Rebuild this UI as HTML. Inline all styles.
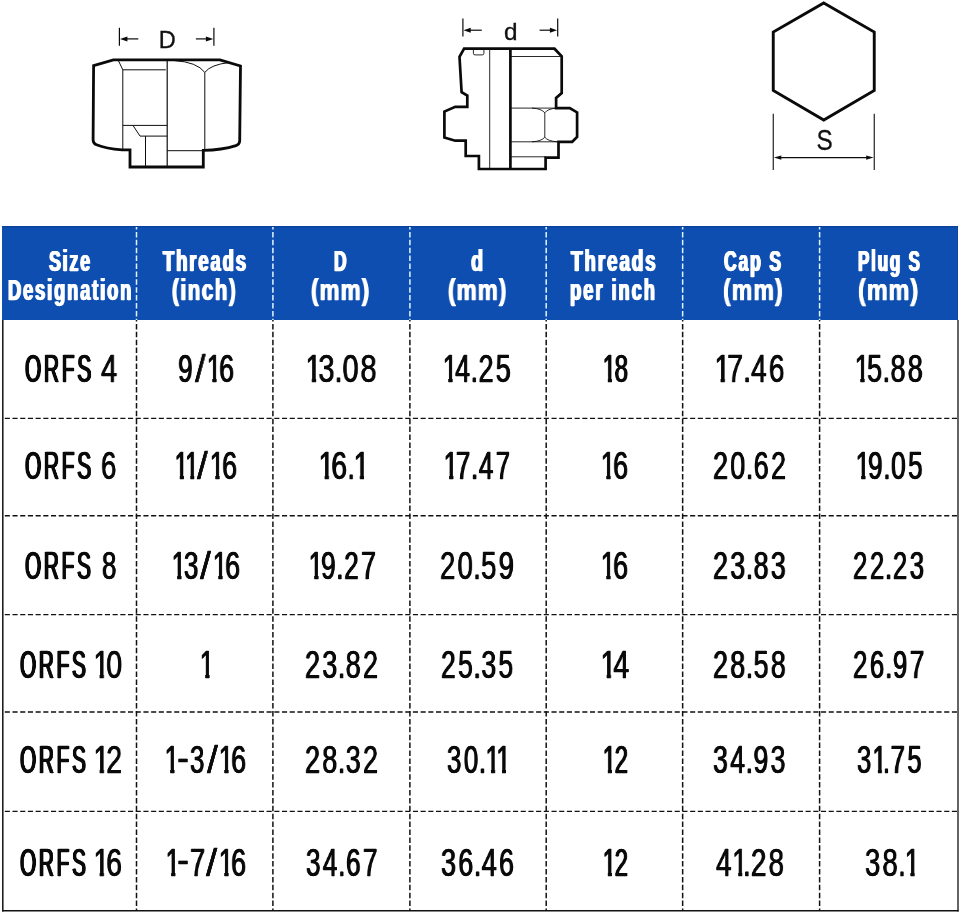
<!DOCTYPE html>
<html lang="en">
<head>
<meta charset="utf-8">
<title>ORFS Cap and Plug Size Chart</title>
<style>
html,body{margin:0;padding:0;background:#fff;}
body{width:960px;height:914px;position:relative;overflow:hidden;font-family:"Liberation Sans",sans-serif;}
#page{position:absolute;left:0;top:0;width:960px;height:914px;background:#fff;overflow:hidden;}
svg{position:absolute;left:0;top:0;display:block;}
#hdr{position:absolute;left:2px;top:226.3px;width:956.1px;height:93.7px;background:#0e4eb0;box-shadow:inset 0 1.2px 0 #0b4198,inset -1px 0 0 #0c469f;}

.b,.h{position:absolute;white-space:nowrap;transform-origin:0 0;line-height:1;margin:-0.85em 0 0 0;padding:0;font-family:"Liberation Sans",sans-serif;will-change:transform;}
.b{--d:0px;font-size:39.35px;color:#0a0a0a;font-weight:400;-webkit-text-stroke:0.35px #0a0a0a;text-shadow:var(--d) 0 0 currentColor,calc(-1*var(--d)) 0 0 currentColor;}
.h{--d:0px;font-size:28.6px;color:#fff;font-weight:700;-webkit-text-stroke:0.25px #fff;text-shadow:var(--d) 0 0 currentColor,calc(-1*var(--d)) 0 0 currentColor;}
.b b{font-weight:400;margin:0 -0.07em 0 -0.065em;}
.b i{display:inline-block;font-style:normal;margin:0 -0.176em 0 -0.055em;clip-path:polygon(-0.3em -0.2em,0.9em -0.2em,0.9em 0.685em,calc(0.34em + var(--d) + 0.4px) 0.685em,calc(0.34em + var(--d) + 0.4px) 1.2em,calc(0.25em - var(--d) - 0.4px) 1.2em,calc(0.25em - var(--d) - 0.4px) 0.685em,-0.3em 0.685em);}

.dl text{font-family:"Liberation Sans",sans-serif;fill:#111;}
</style>
</head>
<body>
<div id="page">

<div id="hdr"></div>
<div id="tbl" role="table">
<div role="row">
<div role="columnheader" aria-label="Size Designation">
<span class="h" style="left:49.13px;top:270.80px;transform:scaleX(0.6201);--d:1.20px;letter-spacing:3.00px;">Size</span>
<span class="h" style="left:8.26px;top:300.00px;transform:scaleX(0.6367);--d:1.20px;letter-spacing:3.00px;">Designation</span>
</div>
<div role="columnheader" aria-label="Threads (inch)">
<span class="h" style="left:163.46px;top:270.80px;transform:scaleX(0.6425);--d:1.20px;letter-spacing:2.98px;">Threads</span>
<span class="h" style="left:171.90px;top:300.00px;transform:scaleX(0.7180);--d:0.94px;letter-spacing:2.21px;">(inch)</span>
</div>
<div role="columnheader" aria-label="D (mm)">
<span class="h" style="left:333.97px;top:270.80px;transform:scaleX(0.6050);--d:1.20px;">D</span>
<span class="h" style="left:311.39px;top:300.00px;transform:scaleX(0.7808);--d:0.68px;letter-spacing:1.54px;">(mm)</span>
</div>
<div role="columnheader" aria-label="d (mm)">
<span class="h" style="left:471.22px;top:270.80px;transform:scaleX(0.6941);--d:1.04px;">d</span>
<span class="h" style="left:448.18px;top:300.00px;transform:scaleX(0.7852);--d:0.67px;letter-spacing:1.49px;">(mm)</span>
</div>
<div role="columnheader" aria-label="Threads per inch">
<span class="h" style="left:571.37px;top:270.80px;transform:scaleX(0.6571);--d:1.20px;letter-spacing:2.93px;">Threads</span>
<span class="h" style="left:570.32px;top:300.00px;transform:scaleX(0.6435);--d:1.20px;letter-spacing:2.98px;">per inch</span>
</div>
<div role="columnheader" aria-label="Cap S (mm)">
<span class="h" style="left:724.42px;top:270.80px;transform:scaleX(0.6125);--d:1.20px;letter-spacing:3.00px;">Cap S</span>
<span class="h" style="left:722.80px;top:300.00px;transform:scaleX(0.8098);--d:0.58px;letter-spacing:1.26px;">(mm)</span>
</div>
<div role="columnheader" aria-label="Plug S (mm)">
<span class="h" style="left:857.67px;top:270.80px;transform:scaleX(0.5953);--d:1.20px;letter-spacing:3.00px;">Plug S</span>
<span class="h" style="left:858.07px;top:300.00px;transform:scaleX(0.8187);--d:0.55px;letter-spacing:1.18px;">(mm)</span>
</div>
</div>
<div role="row">
<div role="cell" aria-label="ORFS 4"><span class="b" style="left:24.77px;top:382.20px;transform:scaleX(0.5301);--d:1.54px;letter-spacing:5.20px;">ORFS</span> <span class="b" style="left:100.52px;top:382.20px;transform:scaleX(0.7420);--d:0.45px;">4</span></div>
<div role="cell" aria-label="9/16"><span class="b" style="left:177.96px;top:382.20px;transform:scaleX(0.6679);--d:0.73px;">9</span><span class="b" style="left:195.05px;top:382.20px;transform:scaleX(0.9626);">/</span><span class="b" style="left:208.42px;top:382.20px;transform:scaleX(0.6855);--d:0.65px;letter-spacing:3.33px;"><i>1</i>6</span></div>
<div role="cell" aria-label="13.08"><span class="b" style="left:307.02px;top:382.20px;transform:scaleX(0.7352);--d:0.47px;letter-spacing:2.63px;"><i>1</i>3<b>.</b>08</span></div>
<div role="cell" aria-label="14.25"><span class="b" style="left:443.68px;top:382.20px;transform:scaleX(0.6851);--d:0.66px;letter-spacing:3.33px;"><i>1</i>4<b>.</b>25</span></div>
<div role="cell" aria-label="18"><span class="b" style="left:603.90px;top:382.20px;transform:scaleX(0.6135);--d:0.97px;letter-spacing:4.52px;"><i>1</i>8</span></div>
<div role="cell" aria-label="17.46"><span class="b" style="left:715.58px;top:382.20px;transform:scaleX(0.7161);--d:0.54px;letter-spacing:2.89px;"><i>1</i>7<b>.</b>46</span></div>
<div role="cell" aria-label="15.88"><span class="b" style="left:856.18px;top:382.20px;transform:scaleX(0.6853);--d:0.66px;letter-spacing:3.33px;"><i>1</i>5<b>.</b>88</span></div>
</div>
<div role="row">
<div role="cell" aria-label="ORFS 6"><span class="b" style="left:25.02px;top:479.40px;transform:scaleX(0.5295);--d:1.54px;letter-spacing:5.21px;">ORFS</span> <span class="b" style="left:101.01px;top:479.40px;transform:scaleX(0.7024);--d:0.59px;">6</span></div>
<div role="cell" aria-label="11/16"><span class="b" style="left:175.52px;top:479.40px;transform:scaleX(0.6069);--d:1.00px;letter-spacing:4.65px;"><i>1</i><i>1</i></span><span class="b" style="left:197.30px;top:479.40px;transform:scaleX(0.9853);">/</span><span class="b" style="left:210.92px;top:479.40px;transform:scaleX(0.6855);--d:0.65px;letter-spacing:3.33px;"><i>1</i>6</span></div>
<div role="cell" aria-label="16.1"><span class="b" style="left:319.56px;top:479.40px;transform:scaleX(0.7205);--d:0.52px;letter-spacing:2.83px;"><i>1</i>6<b>.</b><i>1</i></span></div>
<div role="cell" aria-label="17.47"><span class="b" style="left:444.87px;top:479.40px;transform:scaleX(0.6548);--d:0.78px;letter-spacing:3.80px;"><i>1</i>7<b>.</b>47</span></div>
<div role="cell" aria-label="16"><span class="b" style="left:602.17px;top:479.40px;transform:scaleX(0.6855);--d:0.65px;letter-spacing:3.33px;"><i>1</i>6</span></div>
<div role="cell" aria-label="20.62"><span class="b" style="left:712.73px;top:479.40px;transform:scaleX(0.6847);--d:0.66px;letter-spacing:3.34px;">20<b>.</b>62</span></div>
<div role="cell" aria-label="19.05"><span class="b" style="left:857.24px;top:479.40px;transform:scaleX(0.6651);--d:0.74px;letter-spacing:3.64px;"><i>1</i>9<b>.</b>05</span></div>
</div>
<div role="row">
<div role="cell" aria-label="ORFS 8"><span class="b" style="left:25.03px;top:579.80px;transform:scaleX(0.5270);--d:1.56px;letter-spacing:5.26px;">ORFS</span> <span class="b" style="left:101.59px;top:579.80px;transform:scaleX(0.6538);--d:0.79px;">8</span></div>
<div role="cell" aria-label="13/16"><span class="b" style="left:172.50px;top:579.80px;transform:scaleX(0.6615);--d:0.75px;letter-spacing:3.70px;"><i>1</i>3</span><span class="b" style="left:200.05px;top:579.80px;transform:scaleX(0.9989);">/</span><span class="b" style="left:213.77px;top:579.80px;transform:scaleX(0.6855);--d:0.65px;letter-spacing:3.33px;"><i>1</i>6</span></div>
<div role="cell" aria-label="19.27"><span class="b" style="left:309.73px;top:579.80px;transform:scaleX(0.6689);--d:0.72px;letter-spacing:3.58px;"><i>1</i>9<b>.</b>27</span></div>
<div role="cell" aria-label="20.59"><span class="b" style="left:440.17px;top:579.80px;transform:scaleX(0.7001);--d:0.60px;letter-spacing:3.11px;">20<b>.</b>59</span></div>
<div role="cell" aria-label="16"><span class="b" style="left:602.17px;top:579.80px;transform:scaleX(0.6855);--d:0.65px;letter-spacing:3.33px;"><i>1</i>6</span></div>
<div role="cell" aria-label="23.83"><span class="b" style="left:712.74px;top:579.80px;transform:scaleX(0.6821);--d:0.67px;letter-spacing:3.38px;">23<b>.</b>83</span></div>
<div role="cell" aria-label="22.23"><span class="b" style="left:853.34px;top:579.80px;transform:scaleX(0.6564);--d:0.77px;letter-spacing:3.78px;">22<b>.</b>23</span></div>
</div>
<div role="row">
<div role="cell" aria-label="ORFS 10"><span class="b" style="left:19.93px;top:678.80px;transform:scaleX(0.5258);--d:1.57px;letter-spacing:5.29px;">ORFS</span> <span class="b" style="left:94.57px;top:678.80px;transform:scaleX(0.7186);--d:0.53px;letter-spacing:2.86px;"><i>1</i>0</span></div>
<div role="cell" aria-label="1"><span class="b" style="left:201.32px;top:678.80px;transform:scaleX(0.6713);--d:0.71px;"><i>1</i></span></div>
<div role="cell" aria-label="23.82"><span class="b" style="left:305.23px;top:678.80px;transform:scaleX(0.6847);--d:0.66px;letter-spacing:3.34px;">23<b>.</b>82</span></div>
<div role="cell" aria-label="25.35"><span class="b" style="left:440.78px;top:678.80px;transform:scaleX(0.6728);--d:0.71px;letter-spacing:3.52px;">25<b>.</b>35</span></div>
<div role="cell" aria-label="14"><span class="b" style="left:602.05px;top:678.80px;transform:scaleX(0.7257);--d:0.50px;letter-spacing:2.76px;"><i>1</i>4</span></div>
<div role="cell" aria-label="28.58"><span class="b" style="left:712.74px;top:678.80px;transform:scaleX(0.6815);--d:0.67px;letter-spacing:3.39px;">28<b>.</b>58</span></div>
<div role="cell" aria-label="26.97"><span class="b" style="left:853.33px;top:678.80px;transform:scaleX(0.6589);--d:0.76px;letter-spacing:3.74px;">26<b>.</b>97</span></div>
</div>
<div role="row">
<div role="cell" aria-label="ORFS 12"><span class="b" style="left:20.03px;top:773.50px;transform:scaleX(0.5270);--d:1.56px;letter-spacing:5.26px;">ORFS</span> <span class="b" style="left:94.75px;top:773.50px;transform:scaleX(0.7247);--d:0.51px;letter-spacing:2.77px;"><i>1</i>2</span></div>
<div role="cell" aria-label="1-3/16"><span class="b" style="left:165.99px;top:773.50px;transform:scaleX(0.6638);--d:0.74px;"><i>1</i></span><span class="b" style="left:176.58px;top:771.10px;transform:scaleX(0.9049);">-</span><span class="b" style="left:189.91px;top:773.50px;transform:scaleX(0.6544);--d:0.78px;">3</span><span class="b" style="left:206.55px;top:773.50px;transform:scaleX(0.9989);">/</span><span class="b" style="left:220.27px;top:773.50px;transform:scaleX(0.6855);--d:0.65px;letter-spacing:3.33px;"><i>1</i>6</span></div>
<div role="cell" aria-label="28.32"><span class="b" style="left:305.23px;top:773.50px;transform:scaleX(0.6847);--d:0.66px;letter-spacing:3.34px;">28<b>.</b>32</span></div>
<div role="cell" aria-label="30.11"><span class="b" style="left:447.16px;top:773.50px;transform:scaleX(0.6533);--d:0.79px;letter-spacing:3.83px;">30<b>.</b><i>1</i><i>1</i></span></div>
<div role="cell" aria-label="12"><span class="b" style="left:603.90px;top:773.50px;transform:scaleX(0.6143);--d:0.97px;letter-spacing:4.51px;"><i>1</i>2</span></div>
<div role="cell" aria-label="34.93"><span class="b" style="left:713.08px;top:773.50px;transform:scaleX(0.6767);--d:0.69px;letter-spacing:3.46px;">34<b>.</b>93</span></div>
<div role="cell" aria-label="31.75"><span class="b" style="left:857.18px;top:773.50px;transform:scaleX(0.6475);--d:0.81px;letter-spacing:3.92px;">3<i>1</i><b>.</b>75</span></div>
</div>
<div role="row">
<div role="cell" aria-label="ORFS 16"><span class="b" style="left:20.03px;top:876.30px;transform:scaleX(0.5270);--d:1.56px;letter-spacing:5.26px;">ORFS</span> <span class="b" style="left:94.75px;top:876.30px;transform:scaleX(0.7238);--d:0.51px;letter-spacing:2.78px;"><i>1</i>6</span></div>
<div role="cell" aria-label="1-7/16"><span class="b" style="left:166.67px;top:876.30px;transform:scaleX(0.6563);--d:0.77px;"><i>1</i></span><span class="b" style="left:177.31px;top:873.90px;transform:scaleX(0.9145);">-</span><span class="b" style="left:189.78px;top:876.30px;transform:scaleX(0.6864);--d:0.65px;">7</span><span class="b" style="left:205.65px;top:876.30px;transform:scaleX(1.0262);">/</span><span class="b" style="left:219.67px;top:876.30px;transform:scaleX(0.6855);--d:0.65px;letter-spacing:3.33px;"><i>1</i>6</span></div>
<div role="cell" aria-label="34.67"><span class="b" style="left:305.63px;top:876.30px;transform:scaleX(0.6621);--d:0.75px;letter-spacing:3.69px;">34<b>.</b>67</span></div>
<div role="cell" aria-label="36.46"><span class="b" style="left:441.05px;top:876.30px;transform:scaleX(0.6853);--d:0.66px;letter-spacing:3.33px;">36<b>.</b>46</span></div>
<div role="cell" aria-label="12"><span class="b" style="left:603.90px;top:876.30px;transform:scaleX(0.6143);--d:0.97px;letter-spacing:4.51px;"><i>1</i>2</span></div>
<div role="cell" aria-label="41.28"><span class="b" style="left:716.01px;top:876.30px;transform:scaleX(0.7072);--d:0.57px;letter-spacing:3.01px;">4<i>1</i><b>.</b>28</span></div>
<div role="cell" aria-label="38.1"><span class="b" style="left:864.52px;top:876.30px;transform:scaleX(0.6961);--d:0.61px;letter-spacing:3.17px;">38<b>.</b><i>1</i></span></div>
</div>
</div>
<svg id="grid" width="960" height="914" viewBox="0 0 960 914" fill="none">
<line x1="136.5" y1="227.0" x2="136.5" y2="320.0" stroke="#e4f4ff" stroke-width="1.5" stroke-dasharray="5.5 2.4" stroke-dashoffset="3"/>
<line x1="136.5" y1="320.0" x2="136.5" y2="910.8" stroke="#111" stroke-width="1.5" stroke-dasharray="5.5 2.4" stroke-dashoffset="4"/>
<line x1="272.9" y1="227.0" x2="272.9" y2="320.0" stroke="#e4f4ff" stroke-width="1.5" stroke-dasharray="5.5 2.4" stroke-dashoffset="3"/>
<line x1="272.9" y1="320.0" x2="272.9" y2="910.8" stroke="#111" stroke-width="1.5" stroke-dasharray="5.5 2.4" stroke-dashoffset="4"/>
<line x1="409.9" y1="227.0" x2="409.9" y2="320.0" stroke="#e4f4ff" stroke-width="1.5" stroke-dasharray="5.5 2.4" stroke-dashoffset="3"/>
<line x1="409.9" y1="320.0" x2="409.9" y2="910.8" stroke="#111" stroke-width="1.5" stroke-dasharray="5.5 2.4" stroke-dashoffset="4"/>
<line x1="546.2" y1="227.0" x2="546.2" y2="320.0" stroke="#e4f4ff" stroke-width="1.5" stroke-dasharray="5.5 2.4" stroke-dashoffset="3"/>
<line x1="546.2" y1="320.0" x2="546.2" y2="910.8" stroke="#111" stroke-width="1.5" stroke-dasharray="5.5 2.4" stroke-dashoffset="4"/>
<line x1="682.65" y1="227.0" x2="682.65" y2="320.0" stroke="#e4f4ff" stroke-width="1.5" stroke-dasharray="5.5 2.4" stroke-dashoffset="3"/>
<line x1="682.65" y1="320.0" x2="682.65" y2="910.8" stroke="#111" stroke-width="1.5" stroke-dasharray="5.5 2.4" stroke-dashoffset="4"/>
<line x1="819.6" y1="227.0" x2="819.6" y2="320.0" stroke="#e4f4ff" stroke-width="1.5" stroke-dasharray="5.5 2.4" stroke-dashoffset="3"/>
<line x1="819.6" y1="320.0" x2="819.6" y2="910.8" stroke="#111" stroke-width="1.5" stroke-dasharray="5.5 2.4" stroke-dashoffset="4"/>
<line x1="2.8" y1="418.35" x2="958.0" y2="418.35" stroke="#111" stroke-width="1.45" stroke-dasharray="5.1 2.6" stroke-dashoffset="-2"/>
<line x1="2.8" y1="515.7" x2="958.0" y2="515.7" stroke="#111" stroke-width="1.45" stroke-dasharray="5.1 2.6" stroke-dashoffset="-2"/>
<line x1="2.8" y1="614.6" x2="958.0" y2="614.6" stroke="#111" stroke-width="1.45" stroke-dasharray="5.1 2.6" stroke-dashoffset="-2"/>
<line x1="2.8" y1="712.0" x2="958.0" y2="712.0" stroke="#111" stroke-width="1.45" stroke-dasharray="5.1 2.6" stroke-dashoffset="-2"/>
<line x1="2.8" y1="811.35" x2="958.0" y2="811.35" stroke="#111" stroke-width="1.45" stroke-dasharray="5.1 2.6" stroke-dashoffset="-2"/>
<line x1="2.8" y1="320.0" x2="2.8" y2="911.5" stroke="#111" stroke-width="1.5"/>
<line x1="958.0" y1="320.0" x2="958.0" y2="911.5" stroke="#111" stroke-width="1.3"/>
<line x1="2.0999999999999996" y1="910.8" x2="958.6" y2="910.8" stroke="#111" stroke-width="1.4"/>
</svg>
<svg id="dia" class="dl" width="960" height="215" viewBox="0 0 960 215" fill="none" stroke-linejoin="miter" stroke-linecap="butt">
<!-- Diagram 1: cap, dimension D -->
<g stroke="#0a0a0a" stroke-width="1.2">
<line x1="119.4" y1="27.7" x2="119.4" y2="45.8"/>
<line x1="213.9" y1="27.7" x2="213.9" y2="45.8"/>
<line x1="124" y1="38.9" x2="138.3" y2="38.9"/>
<line x1="195.9" y1="38.9" x2="209" y2="38.9"/>
</g>
<path d="M120 38.9l7.4-2.5v5z M213.3 38.9l-7.4-2.5v5z" fill="#0a0a0a"/>
<text x="167.3" y="47.5" font-size="23.5" text-anchor="middle" stroke="#111" stroke-width="0.35">D</text>
<path d="M93.6 65.6 L113.4 59.9 L219.9 59.9 L240.5 66 L239.7 141 Q239.5 144.6 236 145.6 Q222 150 203.3 150.4 L203.3 167 L130 167 L130 149.8 L122 149.8 Q106 148.8 96.5 144.8 Q93.2 143.6 93.1 140 Z" stroke="#0a0a0a" stroke-width="2.8"/>
<g stroke="#0d0d0d" stroke-width="1.0">
<path d="M118.5 60.8 L122.8 69.8 L165.8 69.8"/>
<line x1="122.8" y1="69.8" x2="122.8" y2="149.4"/>
<line x1="167.2" y1="60" x2="167.2" y2="167" stroke-width="1.2"/>
<line x1="122.8" y1="125.4" x2="167.2" y2="125.4"/>
<path d="M133.1 125.6 L140 136.1 L167.2 136.1"/>
<line x1="145.5" y1="136.1" x2="145.5" y2="167"/>
<line x1="167.2" y1="150.7" x2="203.3" y2="150.7"/>
<line x1="204.8" y1="72.4" x2="204.8" y2="149.6"/>
<path d="M174.4 60.6 Q197 62 204.8 72.4 Q211 64.5 229 62.6"/>
</g>
<!-- Diagram 2: plug, dimension d -->
<g stroke="#0a0a0a" stroke-width="1.2">
<line x1="462.9" y1="18.4" x2="462.9" y2="36.6"/>
<line x1="557.7" y1="18.4" x2="557.7" y2="36.6"/>
<line x1="467" y1="30.2" x2="481.8" y2="30.2"/>
<line x1="539.6" y1="30.2" x2="553" y2="30.2"/>
</g>
<path d="M463.5 30.2l7.2-2.5v5z M557.1 30.2l-7.2-2.5v5z" fill="#0a0a0a"/>
<text x="510.8" y="40.4" font-size="24.3" text-anchor="middle" stroke="#111" stroke-width="0.35">d</text>
<path d="M464.1 48.7 L554.5 48.7 L561.7 56.3 L561.7 93.1 L556.1 97.9 L556.1 108.1 L569.8 108.1 L577.1 112.4 L577.1 137 L572.2 141.8 L558.5 141.8 L558.5 157.6 L545.6 157.6 L545.6 169 L478.9 169 L478.9 156 L465.7 156 L465.7 140.7 L455.2 140.7 L444.4 137.5 L444.4 111.6 L455.2 106.8 L467.3 106.8 L467.3 95.5 L461.6 92.3 L459.5 56.8 Z" stroke="#0a0a0a" stroke-width="2.7"/>
<line x1="510.4" y1="48.7" x2="510.4" y2="169" stroke="#0a0a0a" stroke-width="2.7"/>
<g stroke="#111" stroke-width="0.9">
<line x1="489.7" y1="49" x2="489.7" y2="169"/>
<path d="M473.4 49.5 V53.4 Q473.4 54.9 475 54.9 H482.3 Q483.9 54.9 483.9 53.4 V49.5"/>
<line x1="510.6" y1="56.5" x2="561.7" y2="56.5"/>
<line x1="510.6" y1="108.1" x2="556.1" y2="108.1"/>
<line x1="510.6" y1="141.8" x2="558.5" y2="141.8"/>
<line x1="510.6" y1="156.8" x2="545.6" y2="156.8"/>
<line x1="544.8" y1="112.6" x2="544.8" y2="137.3"/>
<path d="M532 108.1 Q541.5 108.6 544.8 112.8 Q547.5 109 556 108.1"/>
<path d="M532 141.8 Q541.5 141.3 544.8 137.2 Q547.5 141 557 141.8"/>
</g>
<!-- Diagram 3: hexagon, dimension S -->
<path d="M823.75 3 L874.25 32 L874.25 90.5 L823.75 120 L773.25 90.5 L773.25 32 Z" stroke="#0a0a0a" stroke-width="2.9"/>
<g stroke="#0d0d0d" stroke-width="1.1">
<line x1="773.25" y1="113.75" x2="773.25" y2="170"/>
<line x1="874.25" y1="113.75" x2="874.25" y2="170"/>
<line x1="778" y1="157.6" x2="870" y2="157.6"/>
</g>
<path d="M773.9 157.6l7.4-2.1v4.2z M873.6 157.6l-7.4-2.1v4.2z" fill="#0d0d0d"/>
<text transform="translate(824.6 150.2) scale(0.84 1)" font-size="29" text-anchor="middle" stroke="#111" stroke-width="0.3">S</text>
</svg>

</div>
</body>
</html>
